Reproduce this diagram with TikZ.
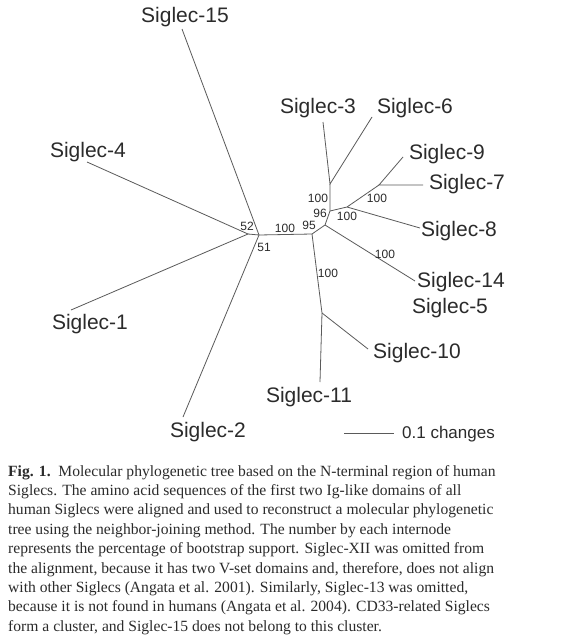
\documentclass[tikz,border=0pt]{standalone}
\usepackage{fontspec}
\setmainfont{Liberation Serif}
\newfontfamily\taxonfont{Liberation Sans}
\usepackage{tikz}
\definecolor{ccInk}{HTML}{2B2B2B}
\definecolor{ccEdge}{HTML}{5A5A5A}
\tikzset{
  edge/.style={ccEdge,line width=0.8pt},
  taxon/.style={ccInk,inner sep=0pt,font=\taxonfont\fontsize{21}{24}\selectfont},
  boot/.style={ccInk,inner sep=0pt,font=\taxonfont\fontsize{12}{14}\selectfont}
}

\begin{document}
\begin{tikzpicture}[x=1pt,y=-1pt]
\fill[white] (0,0) rectangle (582,640);
\useasboundingbox (0,0) rectangle (582,640);
% internal nodes
\coordinate (n1) at (248,234);
\coordinate (n2) at (259,235);
\coordinate (nD) at (312,234);
\coordinate (nE) at (325,225);
\coordinate (nF) at (330,211);
\coordinate (nG) at (330,184);
\coordinate (nJ) at (347,207);
\coordinate (nH) at (379,185);
\coordinate (nK) at (322,313);
% tips
\coordinate (t15) at (182,29);
\coordinate (t4) at (87,162);
\coordinate (t1) at (71,310);
\coordinate (t2) at (183,417);
\coordinate (t3) at (323,122);
\coordinate (t6) at (372,117);
\coordinate (t9) at (403,157);
\coordinate (t7) at (423,185);
\coordinate (t8) at (420,228);
\coordinate (t14) at (415,281);
\coordinate (t10) at (368,349);
\coordinate (t11) at (320,382);
% branches
\draw[edge] (t4) -- (n1) -- (t1);
\draw[edge] (n1) -- (n2);
\draw[edge] (t15) -- (n2) -- (t2);
\draw[edge] (n2) -- (nD);
\draw[edge] (nD) -- (nE) -- (nF) -- (nG);
\draw[edge] (t3) -- (nG) -- (t6);
\draw[edge] (nF) -- (nJ) -- (nH);
\draw[edge] (t9) -- (nH) -- (t7);
\draw[edge] (nJ) -- (t8);
\draw[edge] (nE) -- (t14);
\draw[edge] (nD) -- (nK) -- (t11);
\draw[edge] (nK) -- (t10);
% taxa
\node[taxon] (s15) at (185,17) {Siglec-15};
\node[taxon] (s4) at (88,152) {Siglec-4};
\node[taxon] (s1) at (90,324) {Siglec-1};
\node[taxon] (s2) at (208,432) {Siglec-2};
\node[taxon] (s3) at (318,108) {Siglec-3};
\node[taxon] (s6) at (415,108) {Siglec-6};
\node[taxon] (s9) at (447,154) {Siglec-9};
\node[taxon] (s7) at (467,184) {Siglec-7};
\node[taxon] (s8) at (459,231) {Siglec-8};
\node[taxon] (s14) at (461,282) {Siglec-14};
\node[taxon] (s5) at (450,308) {Siglec-5};
\node[taxon] (s10) at (417,353) {Siglec-10};
\node[taxon] (s11) at (309,397) {Siglec-11};
% bootstrap values
\node[boot] (b52) at (247,226) {52};
\node[boot] (b51) at (264,247) {51};
\node[boot] (bD) at (285,228) {100};
\node[boot] (b95) at (309,225) {95};
\node[boot] (b96) at (320,213) {96};
\node[boot] (bG) at (318,198) {100};
\node[boot] (bJ) at (347,216) {100};
\node[boot] (bH) at (377,198) {100};
\node[boot] (b14) at (385,254) {100};
\node[boot] (bK) at (328,273) {100};
% scale bar
\coordinate (sb1) at (344,433);
\coordinate (sb2) at (394,433);
\draw[edge] (sb1) -- (sb2);
\node[ccInk,inner sep=0pt,anchor=west,font=\taxonfont\fontsize{17}{20}\selectfont] (sbl) at (402,434) {0.1 changes};
% caption
\node[anchor=north west,inner sep=0pt,align=left,ccInk,
  font=\fontsize{15.6}{19.4}\selectfont] (cap) at (8,465) {%
\textbf{Fig. 1.}\ \ Molecular phylogenetic tree based on the N-terminal region of human\\
Siglecs. The amino acid sequences of the first two Ig-like domains of all\\
human Siglecs were aligned and used to reconstruct a molecular phylogenetic\\
tree using the neighbor-joining method. The number by each internode\\
represents the percentage of bootstrap support. Siglec-XII was omitted from\\
the alignment, because it has two V-set domains and, therefore, does not align\\
with other Siglecs (Angata et al. 2001). Similarly, Siglec-13 was omitted,\\
because it is not found in humans (Angata et al. 2004). CD33-related Siglecs\\
form a cluster, and Siglec-15 does not belong to this cluster.};
\end{tikzpicture}
\end{document}
